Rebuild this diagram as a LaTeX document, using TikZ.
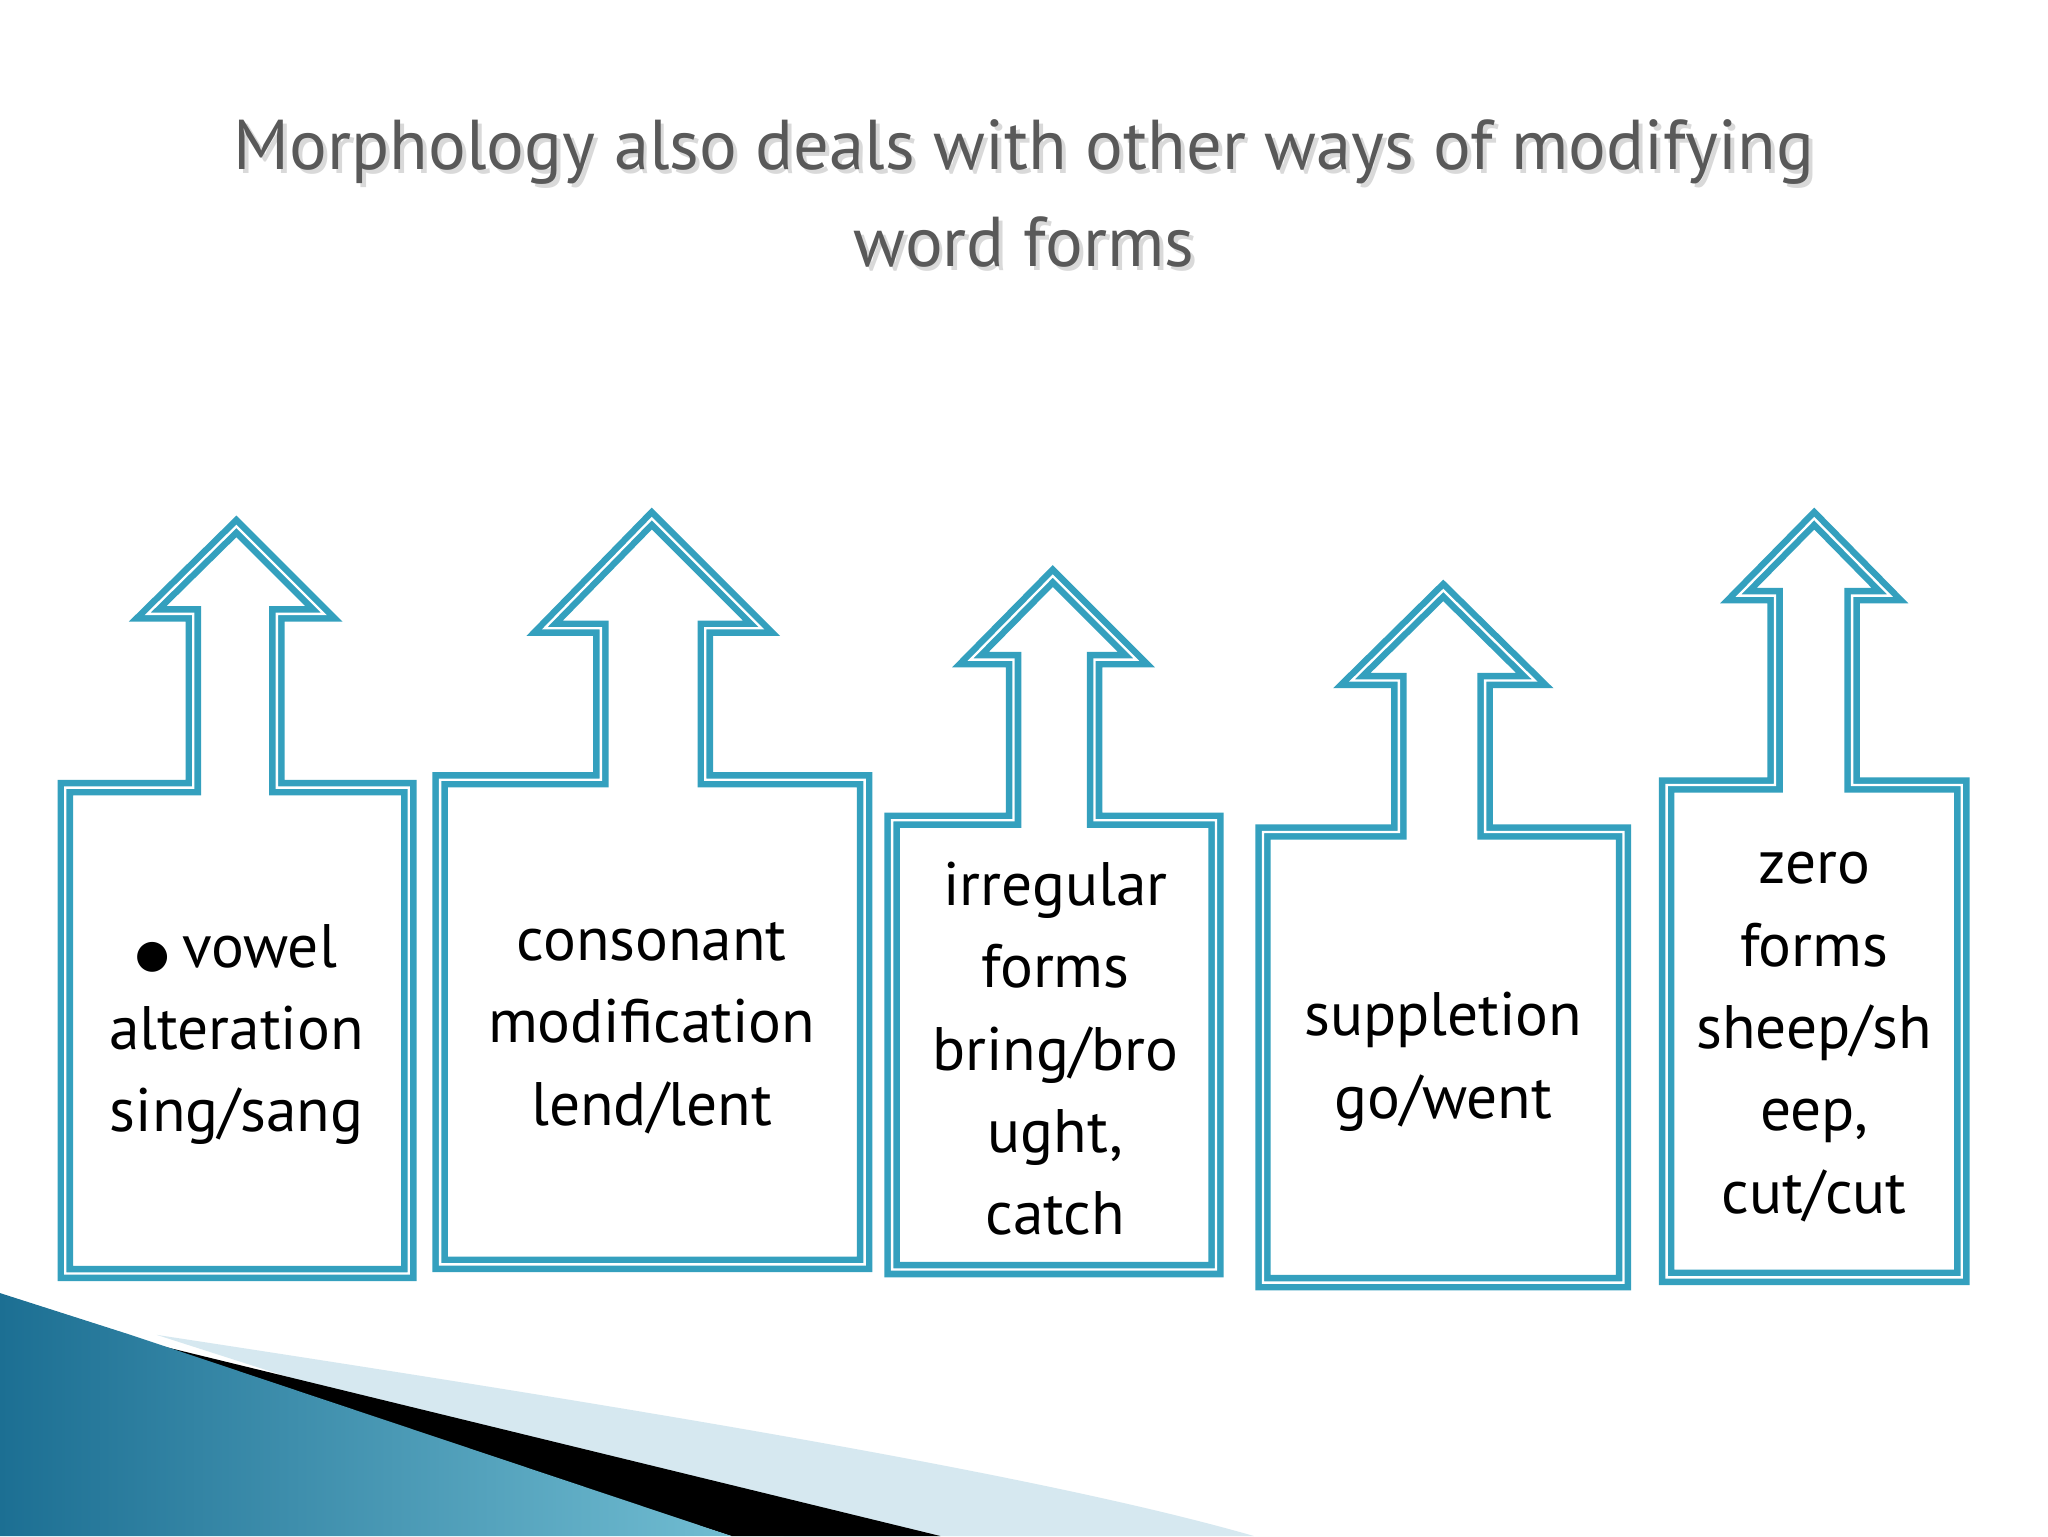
\documentclass[tikz,border=0pt]{standalone}
\usepackage{fontspec}
\setmainfont{PT Sans}
\definecolor{tl}{HTML}{34A0BE}
\definecolor{dblue}{HTML}{1C6F93}
\definecolor{lblue}{HTML}{D6E8F0}
\tikzset{arr/.style={draw=tl,line width=5pt,double=white,double distance=1.8pt,fill=white,line join=miter},
 lbl/.style={align=center,font=\fontsize{47}{63}\selectfont,text=black}}
\begin{document}
\begin{tikzpicture}[x=1pt,y=-1pt]
\useasboundingbox (0,0) rectangle (1568,1176);
\fill[white] (0,0) rectangle (1568,1176);
% decoration
\fill[lblue] (120,1022) .. controls (500,1080) and (800,1130) .. (960,1176) -- (600,1176) -- cycle;
\fill[black] (60,1015) -- (720,1176) -- (560,1176) -- cycle;
\shade[left color=dblue,right color=tl!70] (0,990) -- (100,1022) -- (560,1176) -- (0,1176) -- cycle;
% title
\node[lbl,text=gray!30,font=\fontsize{54}{74}\selectfont] at (787,151) {Morphology also deals with other ways of modifying\\word forms};
\node[lbl,text=black!65,font=\fontsize{54}{74}\selectfont] (title) at (784,148) {Morphology also deals with other ways of modifying\\word forms};
% boxes
\draw[arr] (50,603) -- (148,603) -- (148,470) -- (113,470) -- (181,403) -- (248,470) -- (212,470) -- (212,603) -- (313,603) -- (313,975) -- (50,975) -- cycle;
\draw[arr] (337,597) -- (460,597) -- (460,481) -- (417,481) -- (499,397) -- (583,481) -- (540,481) -- (540,597) -- (662,597) -- (662,968) -- (337,968) -- cycle;
\draw[arr] (683,628) -- (776,628) -- (776,505) -- (743,505) -- (806,441) -- (870,505) -- (838,505) -- (838,628) -- (931,628) -- (931,972) -- (683,972) -- cycle;
\draw[arr] (967,637) -- (1071,637) -- (1071,521) -- (1035,521) -- (1105,452) -- (1175,521) -- (1137,521) -- (1137,637) -- (1243,637) -- (1243,982) -- (967,982) -- cycle;
\draw[arr] (1276,601) -- (1359,601) -- (1359,456) -- (1331,456) -- (1389,397) -- (1447,456) -- (1418,456) -- (1418,601) -- (1502,601) -- (1502,978) -- (1276,978) -- cycle;
\node[lbl] (a) at (181,792) {\fontspec{DejaVu Sans}\fontsize{30}{63}\selectfont●\ \fontspec{PT Sans}\fontsize{47}{63}\selectfont vowel\\alteration\\sing/sang};
\node[lbl] (b) at (499,787) {consonant\\modification\\lend/lent};
\node[lbl] (c) at (808,803) {irregular\\forms\\bring/bro\\ught,\\catch};
\node[lbl] (d) at (1105,813) {suppletion\\go/went};
\node[lbl] (e) at (1389,794) {zero\\forms\\sheep/sh\\eep,\\cut/cut};
\end{tikzpicture}
\end{document}
